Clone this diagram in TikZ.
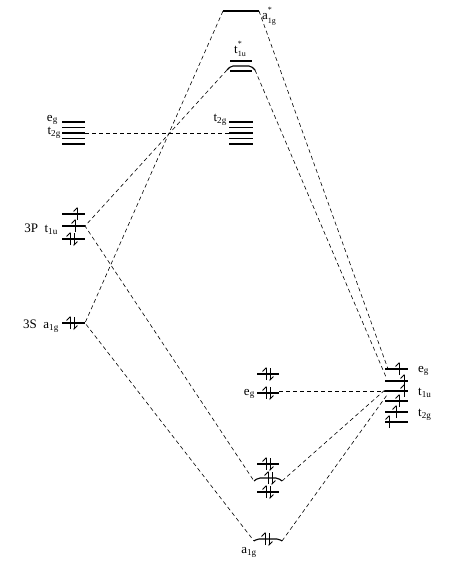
\documentclass[tikz,border=0pt]{standalone}
\usepackage{fontspec}
\setmainfont{Liberation Serif}
\usetikzlibrary{arrows.meta}

\tikzset{
  level/.style={line width=1.1pt},
  conn/.style={dash pattern=on 4pt off 3pt, line width=0.6pt},
  eup/.style={line width=0.8pt, -{Straight Barb[left,length=3.5pt,width=7pt]}},
  lbl/.style={font=\fontsize{13}{15}\selectfont, inner sep=0pt},
}
% one electron (up) and a paired set, at x and level height y
\newcommand{\elup}[2]{\draw[eup] (#1,#2+6) -- (#1,#2-7);}
\newcommand{\elpair}[2]{\draw[eup] (#1,#2+6) -- (#1,#2-7);
  \draw[eup] (#1+4,#2-6) -- (#1+4,#2+7);}
% orbital label with subscript, and with star
\newcommand{\orb}[2]{#1\textsubscript{#2}}
\newcommand{\orbs}[2]{#1\rlap{\raisebox{1.2ex}{\fontsize{8}{8}\selectfont *}}%
  \raisebox{-0.6ex}{\fontsize{8}{8}\selectfont #2}}

\begin{document}
\begin{tikzpicture}[x=1pt,y=-1pt]
    \useasboundingbox (0,0) rectangle (449,564);
    % antibonding levels
    \draw[level] (223,11) -- (259,11);
    \node[lbl,anchor=west] (la1gs) at (262,16) {\orbs{a}{1g}};
    \draw[level] (230,61) -- (252,61);
    \draw[level,rounded corners=2pt] (227,70) -- (231,66) -- (251,66) -- (255,70);
    \draw[level] (230,71) -- (252,71);
    \node[lbl] (lt1us) at (240,49) {\orbs{t}{1u}};
    % metal d levels
    \foreach \y in {122,127.5,133,138.5,144} {
      \draw[level] (62,\y) -- (85,\y);
      \draw[level] (229,\y) -- (253,\y);
    }
    \node[lbl,anchor=east] (leg) at (58,120) {\orb{e}{g}};
    \node[lbl,anchor=east] (lt2g) at (61,133) {\orb{t}{2g}};
    \node[lbl,anchor=east] (mt2g) at (227,120) {\orb{t}{2g}};
    % metal 3P and 3S
    \foreach \y in {214,226,239} \draw[level] (62,\y) -- (85,\y);
    \elup{77}{214}
    \elup{75}{226}
    \elpair{70}{239}
    \node[lbl,anchor=east] (l3p) at (58,229) {3P\ \ \orb{t}{1u}};
    \draw[level] (62,323) -- (85,323);
    \elpair{70}{323}
    \node[lbl,anchor=east] (l3s) at (59,326) {3S\ \ \orb{a}{1g}};
    % nonbonding e_g
    \foreach \y in {374,393} {
      \draw[level] (257,\y) -- (279,\y);
      \elpair{266}{\y}
    }
    \node[lbl,anchor=east] (meg) at (255,394) {\orb{e}{g}};
    % bonding t_1u and a_1g
    \draw[level] (257,464) -- (279,464);
    \draw[level,rounded corners=2pt] (254,481) -- (258,478) -- (278,478) -- (282,481);
    \draw[level] (257,492) -- (279,492);
    \elpair{266}{464}
    \elpair{268}{478}
    \elpair{266}{492}
    \draw[level,rounded corners=2pt] (254,541) -- (257,539) -- (279,539) -- (282,541);
    \elpair{265}{539}
    \node[lbl] (ba1g) at (249,552) {\orb{a}{1g}};
    % ligand levels
    \foreach \y in {369,381,391,401,412,422} \draw[level] (385,\y) -- (408,\y);
    \elup{399}{369}
    \elup{404}{381}
    \elup{404}{391}
    \elup{399}{401}
    \elup{396}{412}
    \elup{389}{422}
    \node[lbl,anchor=west] (reg) at (418,371) {\orb{e}{g}};
    \node[lbl,anchor=west] (rt1u) at (418,393) {\orb{t}{1u}};
    \node[lbl,anchor=west] (rt2g) at (418,415) {\orb{t}{2g}};
    % connector ends
    \coordinate (a1gsL) at (223,11);
    \coordinate (a1gsR) at (259,11);
    \coordinate (t1usL) at (227,70);
    \coordinate (t1usR) at (255,70);
    \coordinate (t2gL) at (85,133);
    \coordinate (t2gM) at (229,133);
    \coordinate (p3) at (85,226);
    \coordinate (s3) at (85,323);
    \coordinate (egM) at (279,391);
    \coordinate (t1uL) at (254,481);
    \coordinate (t1uR) at (282,481);
    \coordinate (a1gL) at (254,541);
    \coordinate (a1gR) at (282,541);
    \coordinate (rtop) at (388,369);
    \coordinate (rsec) at (386,377);
    \coordinate (rmid) at (386,391);
    \coordinate (rlow) at (386,389);
    \coordinate (rbot) at (387,395);
    % correlation lines
    \draw[conn] (a1gsL) -- (s3) -- (a1gL);
    \draw[conn] (t1usL) -- (p3) -- (t1uL);
    \draw[conn] (t2gL) -- (t2gM);
    \draw[conn] (a1gsR) -- (rtop);
    \draw[conn] (t1usR) -- (rsec);
    \draw[conn] (egM) -- (rmid);
    \draw[conn] (t1uR) -- (rlow);
    \draw[conn] (a1gR) -- (rbot);
\end{tikzpicture}
\end{document}
